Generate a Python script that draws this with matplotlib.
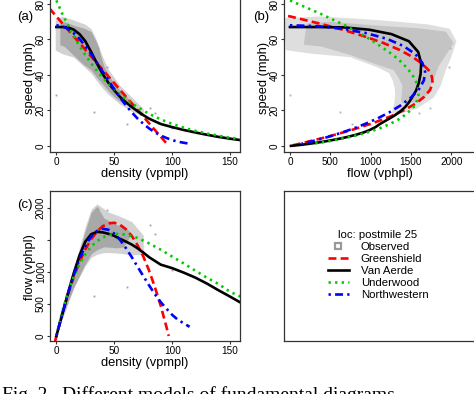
import numpy as np
import matplotlib
matplotlib.use("Agg")
import matplotlib.pyplot as plt
from matplotlib.lines import Line2D

# ---------------- data ----------------
# observed cloud, dense core band (density in vpmpl, speed in mph)
core_density = [3, 7, 15, 24, 30, 35, 41, 47, 52, 58, 63]
core_speed_low = [57, 56, 51, 45.6, 42.8, 38.5, 34, 29.5, 26.5, 24, 24.5]
core_speed_high = [69, 70, 68, 66.3, 64.4, 58, 45, 38, 33.4, 29.7, 26]
# observed cloud, sparse fringe band
fringe_density = [-1, 5, 15, 25, 30, 35, 40, 45, 55, 65, 75]
fringe_speed_low = [54, 52, 50, 44, 41, 36.5, 32.5, 29, 23.5, 19.5, 17]
fringe_speed_high = [72, 73, 71, 68.5, 66, 59, 50, 43, 34, 27.5, 21]
# isolated observed points
outlier_density = [0, 32.5, 61, 81, 85, 100, 44, 36]
outlier_speed = [28.5, 19, 12.6, 21.4, 18.8, 10.3, 44.7, 55]

# Greenshield
gs_density = [-6, 0, 5, 10, 15, 20, 25, 30, 35, 40, 45, 50, 55, 60, 65, 70, 75, 80, 85, 90, 95, 97]
gs_speed = [77.5, 73, 69.2, 65.5, 61.7, 58.0, 54.2, 50.4, 46.6, 42.9, 39.1, 35.4, 31.6, 27.8,
            24.1, 20.3, 16.6, 12.8, 9.0, 5.3, 1.5, 0]
# Van Aerde
va_density = [0, 5, 10, 15, 20, 25, 30, 35, 40, 45, 50, 55, 60, 65, 70, 75, 80, 90, 100, 110,
              120, 130, 140, 150, 160, 170, 180, 190, 200, 215, 230, 250]
va_speed = [67, 67, 66.8, 65.5, 63, 59, 53, 46.5, 40.5, 35.5, 31.3, 27.6, 24.6, 22, 19.6, 17.4,
            15.4, 12.4, 10.6, 9.0, 7.6, 6.3, 5.1, 4.1, 3.2, 2.5, 1.9, 1.4, 1.0, 0.6, 0.3, 0.05]
# Underwood
uw_density = [0, 5, 10, 15, 20, 25, 30, 35, 40, 45, 50, 55, 60, 65, 70, 80, 90, 100, 110, 120,
              130, 140, 150, 160, 175, 190, 205, 220]
uw_speed = [82, 74.6, 68.0, 61.9, 56.2, 51.2, 46.6, 42.3, 38.5, 35.0, 31.9, 29.0, 26.4, 24.0,
            21.9, 18.1, 15.0, 12.4, 10.3, 8.5, 7.0, 5.8, 4.6, 3.8, 3.0, 2.3, 1.7, 1.3]
# Northwestern
nw_density = [0, 5, 10, 15, 20, 25, 30, 35, 40, 45, 50, 55, 60, 65, 70, 75, 80, 85, 90, 95, 100,
              105, 110, 115]
nw_speed = [68, 67.5, 66.0, 63.5, 60.3, 56.3, 51.8, 46.9, 41.9, 36.9, 32.0, 27.3, 22.9, 19.0,
            15.5, 12.5, 9.9, 7.7, 5.9, 4.5, 3.3, 2.4, 1.8, 1.25]

model_names = ["Greenshield", "Van Aerde", "Underwood", "Northwestern"]
legend_title = "loc: postmile 25"

density_ticks = [0, 50, 100, 150]
speed_ticks = [0, 20, 40, 60, 80]
flow_ticks = [0, 500, 1000, 1500, 2000]
flow_tick_labels_c = ["0", "500", "1000", "", "2000"]

# ---------------- styling ----------------
plt.rcParams["font.family"] = ["Liberation Sans", "DejaVu Sans"]
W, H = 474, 394
fig = plt.figure(figsize=(W / 100, H / 100), dpi=100)


def rect(l, t, r, b):
    return [l / W, 1 - b / H, (r - l) / W, (b - t) / H]


ax_a = fig.add_axes(rect(50, -5.8, 240, 152))
ax_b = fig.add_axes(rect(284, -5.8, 480, 152))
ax_c = fig.add_axes(rect(50, 191, 240, 341))
ax_l = fig.add_axes(rect(284, 191, 480, 341))

LW = 1.9
styles = [
    dict(color="#ff0000", lw=LW, dashes=(3.0, 1.6)),
    dict(color="#000000", lw=LW),
    dict(color="#00cc00", lw=LW, dashes=(0.9, 1.6)),
    dict(color="#0000ff", lw=LW, dashes=(0.9, 1.6, 3.0, 1.6)),
]

models = [
    (np.array(gs_density, float), np.array(gs_speed, float)),
    (np.array(va_density, float), np.array(va_speed, float)),
    (np.array(uw_density, float), np.array(uw_speed, float)),
    (np.array(nw_density, float), np.array(nw_speed, float)),
]

cd = np.array(core_density, float)
cl = np.array(core_speed_low, float)
ch = np.array(core_speed_high, float)
fd = np.array(fringe_density, float)
fl = np.array(fringe_speed_low, float)
fh = np.array(fringe_speed_high, float)
od = np.array(outlier_density, float)
osp = np.array(outlier_speed, float)

for ax in (ax_a, ax_b, ax_c, ax_l):
    for s in ax.spines.values():
        s.set_color("#333333")
        s.set_linewidth(0.9)
    ax.tick_params(length=2.5, width=0.8, color="#333333", labelsize=7.2, pad=1)

for ax in (ax_a, ax_b, ax_c):
    ax.tick_params(axis="y", labelrotation=90, pad=0.5)

FRINGE = "#d2d2d2"
CORE = "#a8a8a8"

# (a) speed vs density
ax_a.fill_between(fd, fl, fh, color=FRINGE, lw=0)
ax_a.fill_between(cd, cl, ch, color=CORE, lw=0)
ax_a.plot(od, osp, "s", ms=1.3, color="#a0a0a0", mew=0)
for (k, v), st in zip(models, styles):
    ax_a.plot(k, v, **st)
ax_a.set_xlim(-5.5, 158.5)
ax_a.set_ylim(-3.4, 85.5)
ax_a.set_xticks(density_ticks)
ax_a.set_yticks(speed_ticks)

# (b) speed vs flow
ax_b.fill(np.concatenate([fd * fh, (fd * fl)[::-1]]), np.concatenate([fh, fl[::-1]]),
          color="#dedede", lw=0)
ax_b.fill(np.concatenate([cd * ch, (cd * cl)[::-1]]), np.concatenate([ch, cl[::-1]]),
          color="#c4c4c4", lw=0)
ax_b.plot(od * osp, osp, "s", ms=1.3, color="#b0b0b0", mew=0)
for (k, v), st in zip(models, styles):
    ax_b.plot(k * v, v, **st)
ax_b.set_xlim(-74, 2357)
ax_b.set_ylim(-3.4, 85.5)
ax_b.set_xticks(flow_ticks)
ax_b.set_yticks(speed_ticks)

# (c) flow vs density
ax_c.fill_between(fd, fd * fl, fd * fh, color=FRINGE, lw=0)
ax_c.fill_between(cd, cd * cl, cd * ch, color=CORE, lw=0)
ax_c.plot(od, od * osp, "s", ms=1.3, color="#a0a0a0", mew=0)
for (k, v), st in zip(models, styles):
    ax_c.plot(k, k * v, **st)
ax_c.set_xlim(-5.5, 158.5)
ax_c.set_ylim(-78, 2266)
ax_c.set_xticks(density_ticks)
ax_c.set_yticks(flow_ticks)
ax_c.set_yticklabels(flow_tick_labels_c)

for ax in (ax_a, ax_b, ax_c):
    for lab in ax.get_yticklabels():
        lab.set_va("center")

# legend panel
ax_l.set_xticks([])
ax_l.set_yticks([])
handles = [Line2D([], [], ls="none", marker="s", ms=5, mfc="none", mec="#999999", mew=1.6)]
for st in styles:
    handles.append(Line2D([], [], **st))
leg = ax_l.legend(handles, ["Observed"] + model_names, title=legend_title,
                  loc="center", bbox_to_anchor=(378 / W, 1 - 265 / H),
                  bbox_transform=fig.transFigure, frameon=False, fontsize=8.2,
                  title_fontsize=8.2, handlelength=1.9, handletextpad=1.0,
                  labelspacing=0.16, borderpad=0)

# labels
LBL = 9.3
fig.text(30 / W, 1 - 78 / H, "speed (mph)", rotation=90, ha="center", va="center", fontsize=LBL)
fig.text(264 / W, 1 - 78 / H, "speed (mph)", rotation=90, ha="center", va="center", fontsize=LBL)
fig.text(30 / W, 1 - 267 / H, "flow (vphpl)", rotation=90, ha="center", va="center", fontsize=LBL)
fig.text(145 / W, 1 - 174.5 / H, "density (vpmpl)", ha="center", va="center", fontsize=LBL)
fig.text(380 / W, 1 - 174.5 / H, "flow (vphpl)", ha="center", va="center", fontsize=LBL)
fig.text(145 / W, 1 - 363 / H, "density (vpmpl)", ha="center", va="center", fontsize=LBL)

fig.text(25 / W, 1 - 17 / H, "(a)", ha="center", va="center", fontsize=9.5)
fig.text(261 / W, 1 - 17 / H, "(b)", ha="center", va="center", fontsize=9.5)
fig.text(25 / W, 1 - 205 / H, "(c)", ha="center", va="center", fontsize=9.5)

fig.text(2 / W, 1 - 386 / H, "Fig. 2.  Different models of fundamental diagrams",
         family="Liberation Serif", fontsize=14, ha="left", va="top")

fig.savefig("out.png", dpi=100)
